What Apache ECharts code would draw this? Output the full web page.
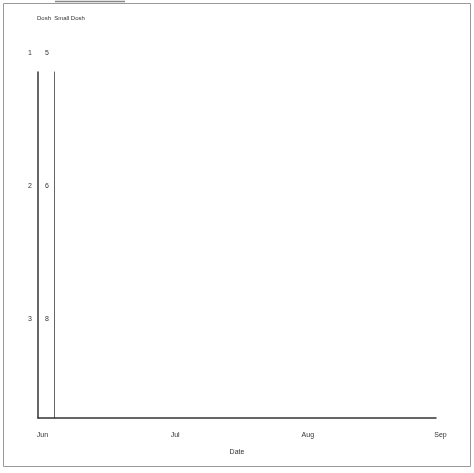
<!DOCTYPE html>
<html>
<head>
<meta charset="utf-8">
<style>
  html, body { margin: 0; padding: 0; background: #fff; }
  #chart { width: 474px; height: 473px; }
</style>
<script src="https://cdn.jsdelivr.net/npm/echarts@6/dist/echarts.min.js"></script>
</head>
<body>
<div id="chart"></div>
<script>
var months = ['Jun', 'Jul', 'Aug', 'Sep'];
var doshTicks = [1, 2, 3];
var doshLabels = ['1', '2', '3'];
var smallDoshLabels = ['5', '6', '8'];

var font = 'Liberation Sans, Arial, sans-serif';

function tickLabel(labels) {
    return function (v) {
        var i = doshTicks.indexOf(v);
        return i < 0 ? '' : labels[i];
    };
}

var option = {
    animation: false,
    grid: { left: 38, right: 38, top: 72, bottom: 55 },
    xAxis: {
        type: 'category',
        data: months,
        boundaryGap: false,
        name: 'Date',
        nameLocation: 'middle',
        nameGap: 31,
        nameTextStyle: { fontSize: 7, color: '#333', fontFamily: font },
        axisLine: { lineStyle: { color: '#333', width: 1.5 } },
        axisTick: { show: false },
        axisLabel: {
            fontSize: 7, color: '#333', fontFamily: font,
            margin: 14, padding: [0, 0, 0, 9]
        },
        splitLine: { show: false }
    },
    yAxis: [
        {
            type: 'value',
            name: 'Dosh',
            inverse: true,
            min: 1,
            max: 3.6,
            interval: 1,
            position: 'left',
            nameLocation: 'start',
            nameGap: 54,
            nameTextStyle: {
                fontSize: 6, color: '#333', fontFamily: font,
                align: 'center', verticalAlign: 'middle', padding: [0, 0, 0, 12]
            },
            axisLine: { show: true, lineStyle: { color: '#333', width: 1.5 } },
            axisTick: { show: false },
            axisLabel: {
                fontSize: 7, color: '#333', fontFamily: font,
                margin: 6, verticalAlign: 'bottom', lineHeight: 38,
                formatter: tickLabel(doshLabels)
            },
            splitLine: { show: false }
        },
        {
            type: 'value',
            name: 'Small Dosh',
            inverse: true,
            min: 1,
            max: 3.6,
            interval: 1,
            position: 'left',
            offset: -16,
            nameLocation: 'start',
            nameGap: 54,
            nameTextStyle: {
                fontSize: 6, color: '#333', fontFamily: font,
                align: 'center', verticalAlign: 'middle', padding: [0, 0, 0, 31]
            },
            axisLine: { show: true, lineStyle: { color: '#666', width: 1 } },
            axisTick: { show: false },
            axisLabel: {
                fontSize: 7, color: '#333', fontFamily: font,
                margin: 5, verticalAlign: 'bottom', lineHeight: 38,
                formatter: tickLabel(smallDoshLabels)
            },
            splitLine: { show: false }
        }
    ],
    series: [
        { name: 'Dosh', type: 'line', yAxisIndex: 0, data: [] },
        { name: 'Small Dosh', type: 'line', yAxisIndex: 1, data: [] }
    ],
    graphic: [
        {
            type: 'rect',
            shape: { x: 3.5, y: 3.5, width: 467, height: 463 },
            style: { fill: 'none', stroke: '#999', lineWidth: 1 }
        },
        {
            type: 'line',
            shape: { x1: 55, y1: 1.5, x2: 125, y2: 1.5 },
            style: { stroke: '#888', lineWidth: 1.5 }
        }
    ]
};

var myChart = echarts.init(document.getElementById('chart'));
myChart.setOption(option);
</script>
</body>
</html>
